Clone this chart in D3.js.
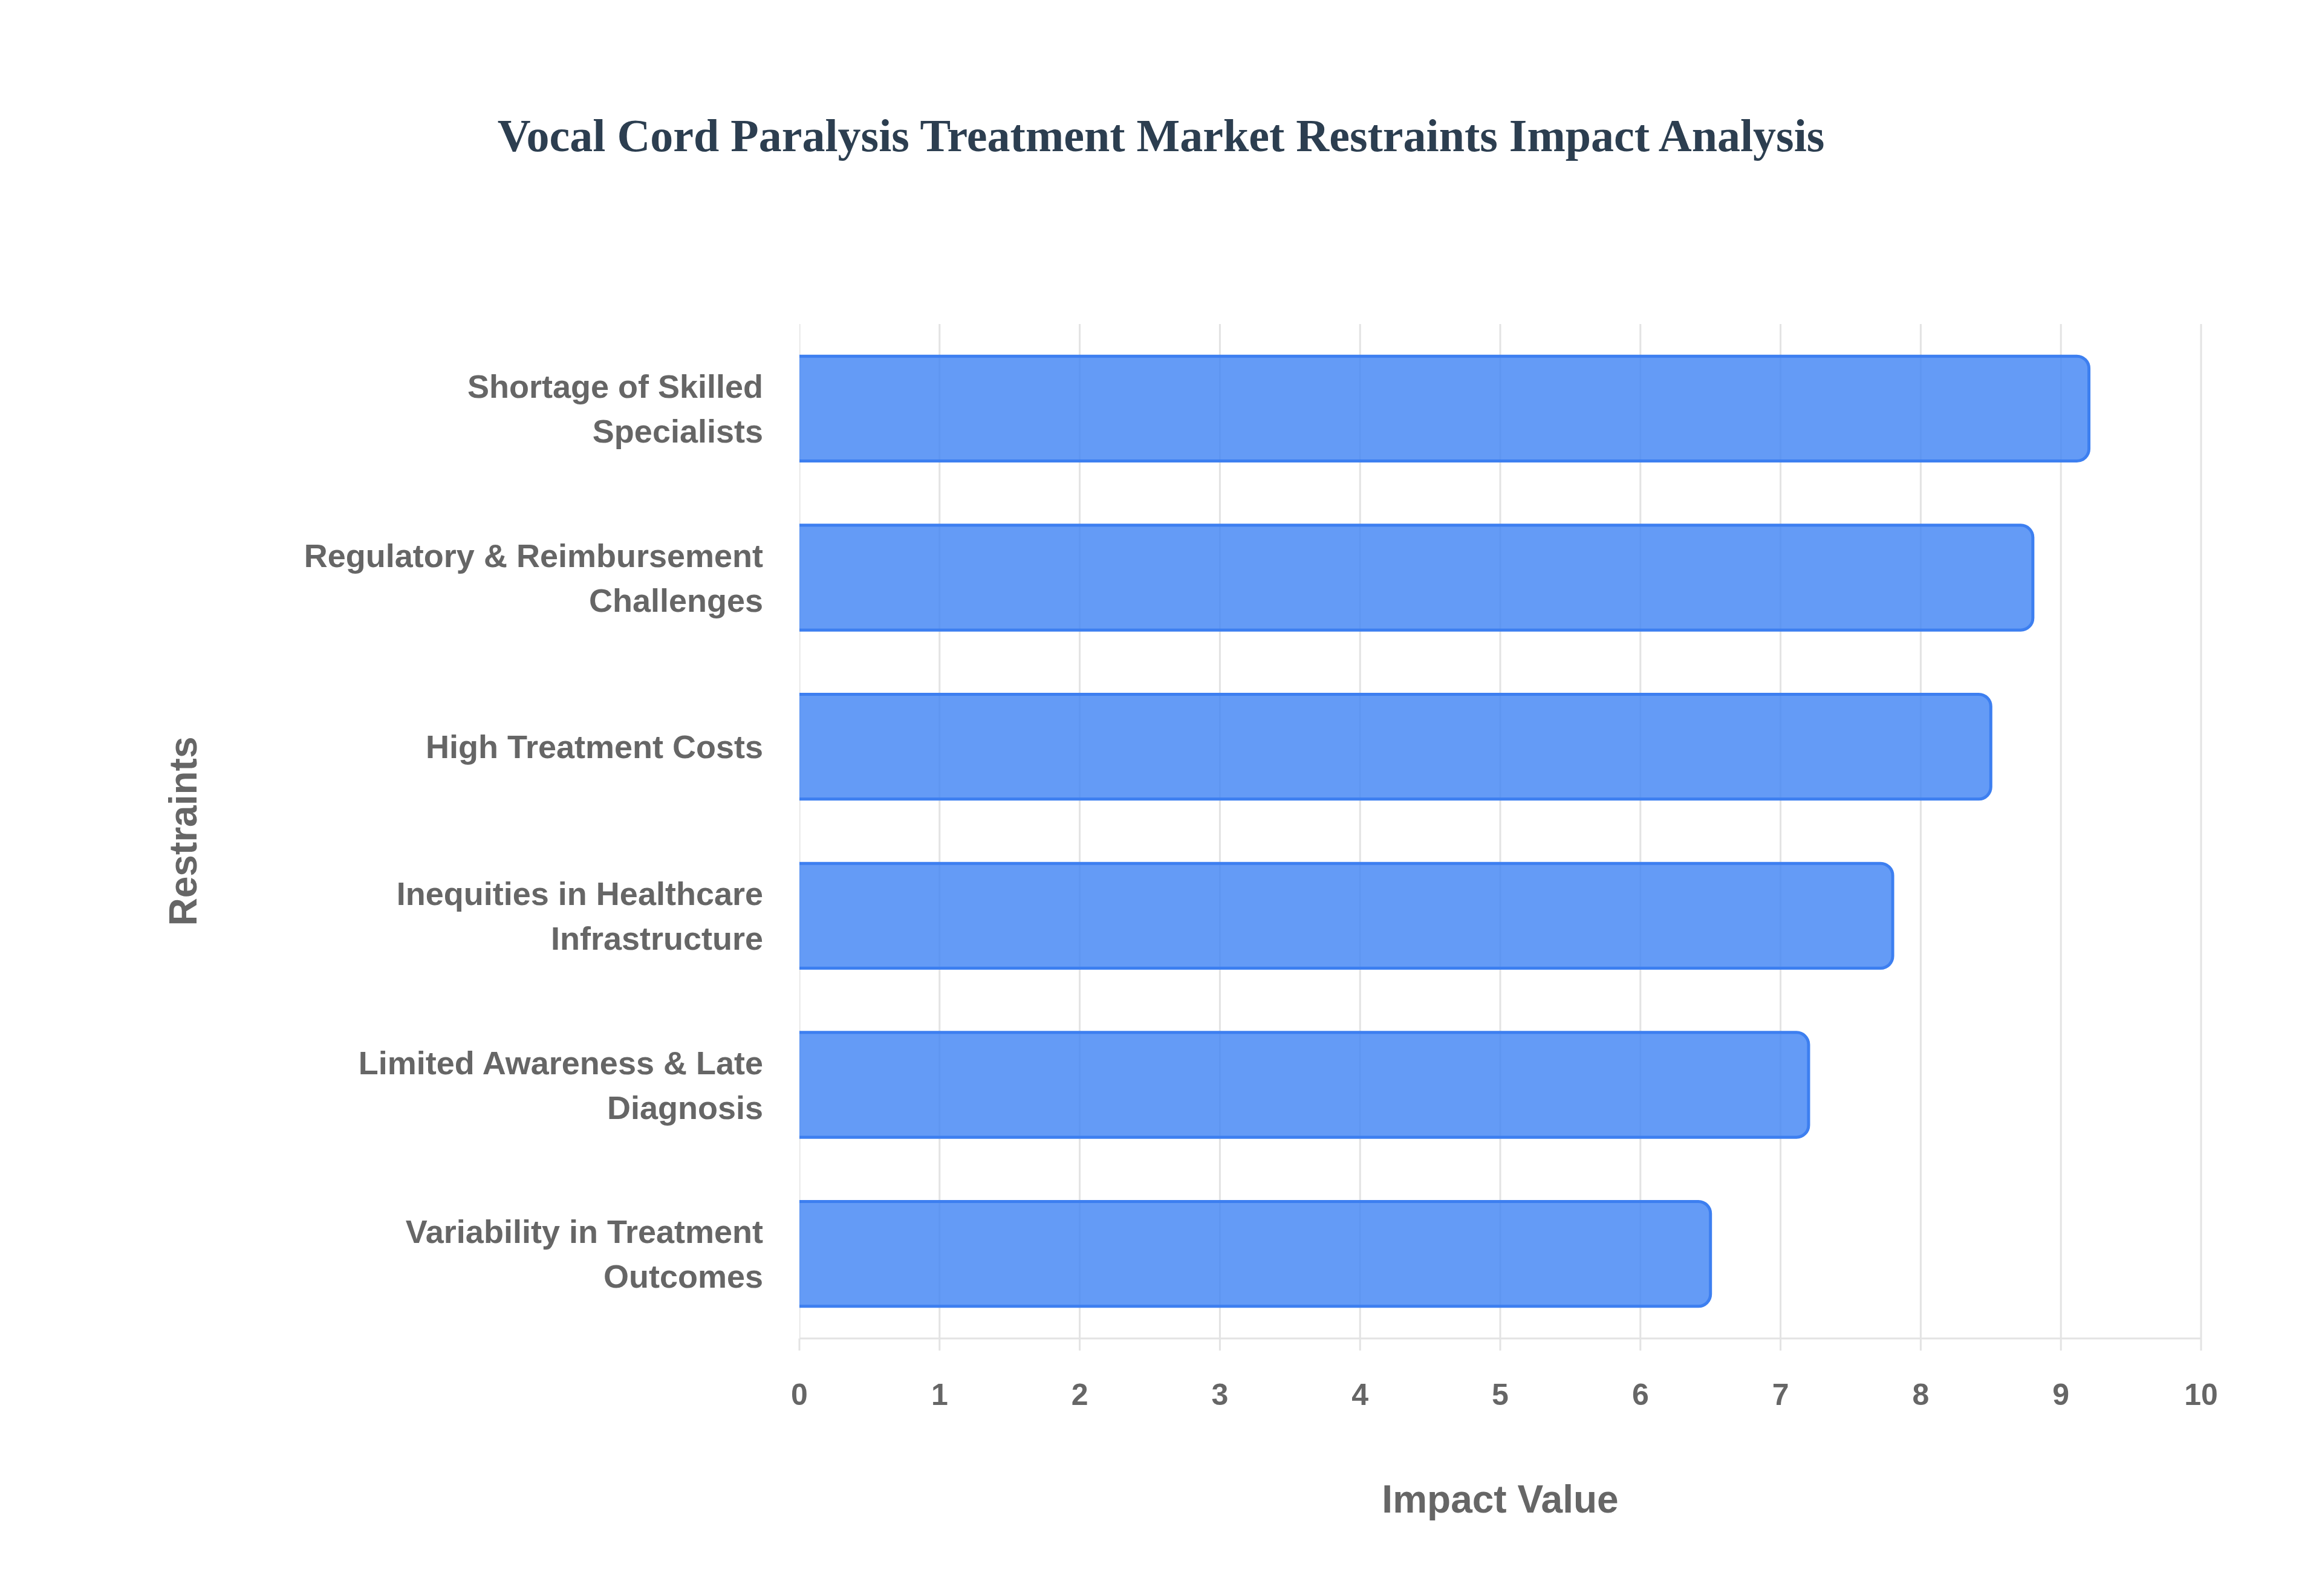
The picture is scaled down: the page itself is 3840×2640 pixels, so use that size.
<!DOCTYPE html>
<html>
<head>
<meta charset="utf-8">
<script src="https://cdn.jsdelivr.net/npm/d3@7"></script>
<style>
  body { margin: 0; background: #fff; }
  text { font-family: "Liberation Sans", Arial, sans-serif; }
</style>
</head>
<body>
<svg id="chart" width="3840" height="2640"></svg>
<script>
'use strict';

var categories = [
  ['Shortage of Skilled', 'Specialists'],
  ['Regulatory & Reimbursement', 'Challenges'],
  ['High Treatment Costs'],
  ['Inequities in Healthcare', 'Infrastructure'],
  ['Limited Awareness & Late', 'Diagnosis'],
  ['Variability in Treatment', 'Outcomes']
];
var impactValues = [9.2, 8.8, 8.5, 7.8, 7.2, 6.5];
var xTicks = [0, 1, 2, 3, 4, 5, 6, 7, 8, 9, 10];

var svg = d3.select('#chart');
var margin = {left: 1322, right: 200, top: 536, bottom: 426};
var W = 3840, H = 2640;

var x = d3.scaleLinear().domain([0, 10])
  .range([margin.left, W - margin.right]);
var y = d3.scaleBand().domain(d3.range(categories.length))
  .range([margin.top, H - margin.bottom]).paddingInner(0.38).paddingOuter(0.19);

// title
svg.append('text').attr('x', 1920).attr('y', 250)
  .attr('text-anchor', 'middle')
  .style('font-family', '"Liberation Serif", "Times New Roman", serif')
  .style('font-weight', 'bold').style('font-size', '76px')
  .attr('fill', '#2c3e50')
  .text('Vocal Cord Paralysis Treatment Market Restraints Impact Analysis');

// grid
svg.append('g').selectAll('line').data(xTicks).enter().append('line')
  .attr('x1', function(d) { return x(d); }).attr('x2', function(d) { return x(d); })
  .attr('y1', margin.top).attr('y2', H - margin.bottom + 20)
  .attr('stroke', '#e3e3e3').attr('stroke-width', 3);
svg.append('line').attr('x1', margin.left).attr('x2', W - margin.right)
  .attr('y1', H - margin.bottom).attr('y2', H - margin.bottom)
  .attr('stroke', '#e3e3e3').attr('stroke-width', 3);

// bars
svg.append('g').selectAll('rect').data(impactValues).enter().append('rect')
  .attr('x', x(0) - 20)
  .attr('y', function(d, i) { return y(i); })
  .attr('width', function(d) { return x(d) - x(0) + 20; })
  .attr('height', y.bandwidth())
  .attr('rx', 20).attr('ry', 20)
  .attr('fill', 'rgba(66,133,244,0.82)')
  .attr('stroke', '#3d7ff0').attr('stroke-width', 5);
// cover the rounded left edge behind the axis
svg.append('rect').attr('x', x(0) - 30).attr('y', margin.top)
  .attr('width', 30).attr('height', H - margin.bottom - margin.top)
  .attr('fill', '#fff');

// tick labels
svg.append('g').selectAll('text').data(xTicks).enter().append('text')
  .attr('x', function(d) { return x(d); }).attr('y', H - margin.bottom + 110)
  .attr('text-anchor', 'middle').attr('fill', '#666')
  .style('font-weight', 'bold').style('font-size', '50px')
  .text(function(d) { return d; });

// category labels
var labs = svg.append('g').selectAll('text').data(categories).enter().append('text')
  .attr('text-anchor', 'end').attr('fill', '#666')
  .style('font-weight', 'bold').style('font-size', '54px');
labs.each(function(lines, i) {
  var cy = y(i) + y.bandwidth() / 2;
  var t = d3.select(this);
  lines.forEach(function(s, j) {
    t.append('tspan').attr('x', margin.left - 60)
      .attr('y', cy + (j - (lines.length - 1) / 2) * 74 + 19).text(s);
  });
});

// axis titles
svg.append('text').attr('x', (margin.left + W - margin.right) / 2)
  .attr('y', H - 138).attr('text-anchor', 'middle').attr('fill', '#666')
  .style('font-weight', 'bold').style('font-size', '64px').text('Impact Value');
svg.append('text')
  .attr('transform', 'translate(325,' + (margin.top + H - margin.bottom) / 2 + ') rotate(-90)')
  .attr('text-anchor', 'middle').attr('fill', '#666')
  .style('font-weight', 'bold').style('font-size', '64px').text('Restraints');
</script>
</body>
</html>
